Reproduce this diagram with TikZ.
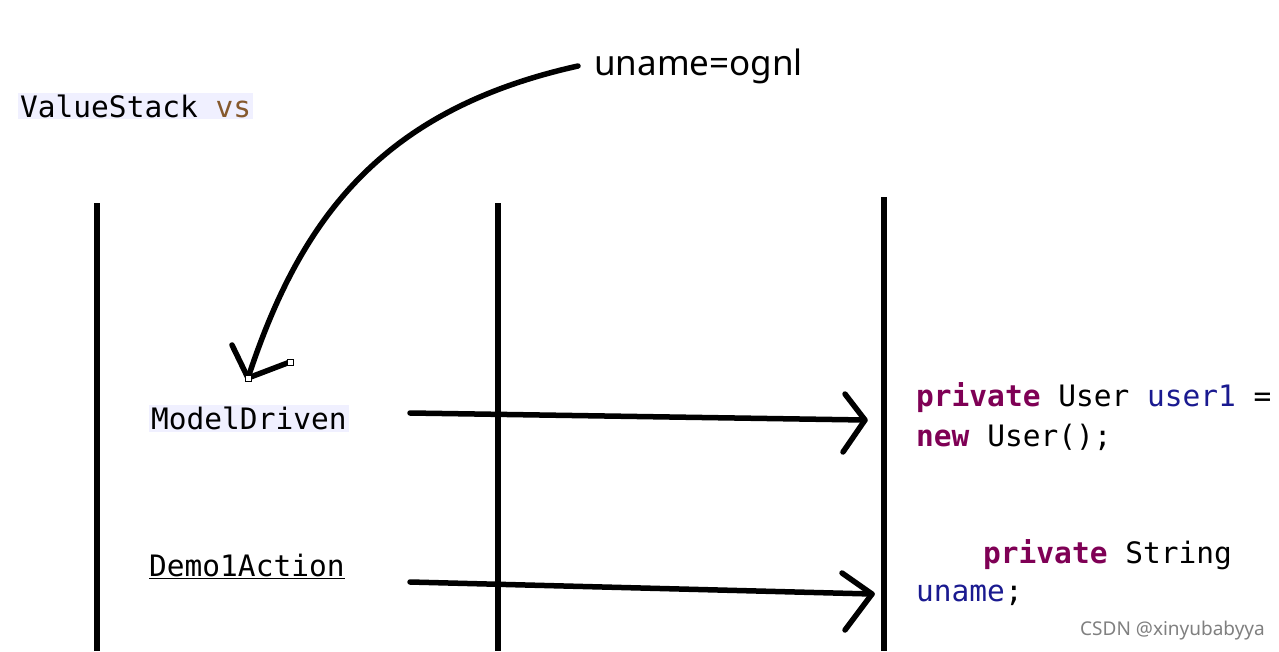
\documentclass[tikz,border=0pt]{standalone}
\usepackage{fontspec}
\setmonofont{DejaVu Sans Mono}
\newfontfamily\sansf{Noto Sans}
\begin{document}
\begin{tikzpicture}[x=1pt,y=-1pt,
  bar/.style={line width=6pt},
  stroke/.style={line width=5.5pt,line cap=round,line join=round},
  code/.style={font=\ttfamily\fontsize{29.5}{38}\selectfont,anchor=west,inner sep=0pt},
  hl/.style={code,fill=blue!6,inner sep=2pt}]
\definecolor{kw}{HTML}{7F0055}
\definecolor{fld}{HTML}{1A1A90}
\useasboundingbox[fill=white] (0,0) rectangle (1279,651);
\node[hl] (vs) at (18,106) {ValueStack \textcolor{brown!70!black}{vs}};
\node[hl] (md) at (149,418) {ModelDriven};
\node[hl,fill=white] (da) at (147,566) {\underline{Demo1Action}};
\node[anchor=west,inner sep=0pt,font=\sansf\fontsize{35}{40}\selectfont] (og) at (594,66) {uname=ognl};
\draw[bar] (97,203) -- (97,651);
\draw[bar] (498,203) -- (498,651);
\draw[bar] (884,197) -- (884,651);
\coordinate (t1) at (865,420);
\coordinate (t2) at (872,594);
\coordinate (t3) at (248,378);
\draw[stroke] (410,413) -- (t1);
\draw[stroke] (845,394) -- (t1) -- (843,452);
\draw[stroke] (410,582) -- (t2);
\draw[stroke] (842,573) -- (t2) -- (845,630);
\draw[stroke] (og.west) ++(-16,0) .. controls (380,110) and (300,220) .. (t3);
\draw[stroke] (232,345) -- (t3) -- (290,362);
\draw[fill=white,line width=0.8pt] (245,375) rectangle (251,381) (287,359) rectangle (293,365);
\node[code] (c1) at (916,398) {\textcolor{kw}{\textbf{private}} User \textcolor{fld}{user1} =};
\node[code] (c2) at (916,437) {\textcolor{kw}{\textbf{new}} User();};
\node[code] (c3) at (983,555) {\textcolor{kw}{\textbf{private}} String};
\node[code] (c4) at (916,595) {\textcolor{fld}{uname};};
\node[anchor=east,inner sep=0pt,text=gray,font=\sansf\fontsize{19}{22}\selectfont] (wm) at (1265,631) {CSDN @xinyubabyya};
\end{tikzpicture}
\end{document}
